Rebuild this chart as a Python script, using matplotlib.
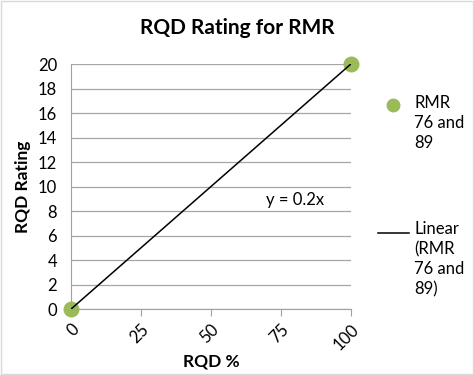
import matplotlib
matplotlib.use('Agg')
import matplotlib.pyplot as plt
from matplotlib.patches import Rectangle

# ─── Data
rqd_pct = [0, 100]
rqd_rating = [0, 20]
slope = 0.2
x_ticks = [0, 25, 50, 75, 100]
y_ticks = list(range(0, 21, 2))

plt.rcParams['font.family'] = ['Lato', 'DejaVu Sans']

fig = plt.figure(figsize=(4.74, 3.75), dpi=100)
ax = fig.add_axes([0.150, 0.176, 0.590, 0.653])

# trendline
fit_x = [min(rqd_pct), max(rqd_pct)]
fit_y = [slope * v for v in fit_x]
ax.plot(fit_x, fit_y, color='black', lw=1.1, zorder=3)
ax.scatter(rqd_pct, rqd_rating, s=110, color='#9BBB59', zorder=2, clip_on=False)

ax.set_xlim(0, 100)
ax.set_ylim(0, 20)
ax.set_xticks(x_ticks)
ax.set_yticks(y_ticks)
ax.set_xticklabels([str(v) for v in x_ticks], rotation=45, ha='right',
                   rotation_mode='anchor', fontsize=12)
ax.set_yticklabels([str(v) for v in y_ticks], fontsize=12)
ax.tick_params(axis='x', length=5, color='#A0A0A0', pad=4)
ax.tick_params(axis='y', length=0, pad=10)
ax.grid(axis='y', color='#A6A6A6', lw=0.9)
ax.set_axisbelow(True)
for side in ['top', 'right']:
    ax.spines[side].set_visible(False)
ax.spines['left'].set_color('#A0A0A0')
ax.spines['bottom'].set_color('#A0A0A0')

ax.set_xlabel('RQD %', fontsize=12.5, fontweight='bold', labelpad=0)
ax.set_ylabel('RQD Rating', fontsize=12.5, fontweight='bold', labelpad=5)
fig.text(0.5, 0.925, 'RQD Rating for RMR', ha='center', va='center',
         fontsize=15, fontweight='bold')

ax.text(80, 8.9, 'y = 0.2x', ha='center', va='center', fontsize=12)

# ─── Legend drawn by hand in figure coords
fig.lines.append(plt.Line2D([393 / 474], [1 - 105 / 375], marker='o', ms=9,
                            color='#9BBB59', transform=fig.transFigure))
fig.text(414 / 474, 1 - 95 / 375, 'RMR\n76 and\n89', ha='left', va='top',
         fontsize=12, linespacing=1.3)
fig.lines.append(plt.Line2D([378 / 474, 409 / 474], [1 - 233 / 375] * 2,
                            color='black', lw=1.1, transform=fig.transFigure))
fig.text(414 / 474, 1 - 221 / 375, 'Linear\n(RMR\n76 and\n89)', ha='left',
         va='top', fontsize=12, linespacing=1.3)

fig.patches.append(Rectangle((0.002, 0.002), 0.996, 0.996, fill=False,
                             ec='#D9D9D9', lw=1, transform=fig.transFigure))

plt.savefig('out.png', dpi=100)
